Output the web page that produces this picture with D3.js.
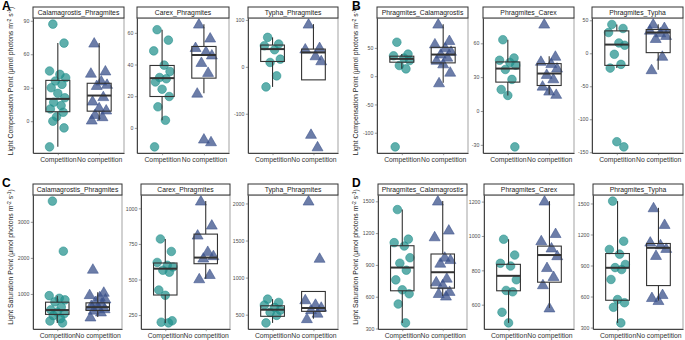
<!DOCTYPE html>
<html><head><meta charset="utf-8">
<script src="https://cdn.jsdelivr.net/npm/d3@7"></script>
<style>body{margin:0;background:#fff;} svg{display:block;font-family:"Liberation Sans",Arial,sans-serif;}</style>
</head><body><svg id="c" width="685" height="340"></svg>
<script>
const groups = ["Competition", "No competition"];

// Panel strip labels
const stripsA = ["Calamagrostis_Phragmites", "Carex_Phragmites", "Typha_Phragmites"];
const stripsB = ["Phragmites_Calamagrostis", "Phragmites_Carex", "Phragmites_Typha"];

// Tick labels
const A1_ticks = [0, 30, 60, 90];
const A2_ticks = [0, 20, 40, 60];
const A3_ticks = [-100, 0, 100];
const B1_ticks = [-100, -50, 0, 50];
const B2_ticks = [-30, 0, 30, 60];
const B3_ticks = [-150, -100, -50, 0, 50];
const C1_ticks = [1000, 2000, 3000];
const C2_ticks = [250, 500, 750, 1000];
const C3_ticks = [500, 1000, 1500, 2000];
const D1_ticks = [300, 600, 900, 1200, 1500];
const D2_ticks = [600, 800, 1000, 1200];
const D3_ticks = [300, 600, 900, 1200, 1500];

// Light compensation point (A)
const A1_comp = [87, 70, 45, 42, 39, 36, 33, 30, 25, 21, 17, 14, 11, 8, 4, 0, -6, -23];
const A1_compBox = [-23, 8.5, 20, 36.6, 70];
const A1_nocomp = [70, 45, 43, 36, 33, 32, 22, 18, 12, 10, 6, 4, 1];
const A1_nocompBox = [1, 9, 23, 34, 70];
const A2_comp = [62, 55.4, 48.6, 39.6, 35.6, 31.8, 31, 29, 24.4, 19.8, 13.3, 4.8, -12];
const A2_compBox = [4.8, 19.8, 31.4, 39.4, 62];
const A2_nocomp = [65.5, 56.7, 50.7, 48.2, 46, 41.3, 35, 21.9, -7.1, -8.8];
const A2_nocompBox = [21.9, 31.4, 46, 51.4, 65.5];
const A3_comp = [62.8, 48.6, 45, 36.4, 16.4, 9.3, -19.3, -42.8];
const A3_compBox = [-42.8, 11.4, 37.8, 46.4, 62.8];
const A3_nocomp = [91, 41, 38, 23.5, 12.8, -144, -170.6];
const A3_nocompBox = [-27.8, -27.8, 30.6, 37.8, 91];

// Light compensation point (B)
const B1_comp = [60, 39, 36, 32, 27.6, 18.8, 12.9, -125];
const B1_compBox = [12.9, 24.7, 30.6, 35.3, 39];
const B1_nocomp = [92, 63, 57, 50, 44, 39, 33.5, 28, 21.7, 7, -11.8];
const B1_nocompBox = [-11.8, 23.5, 38.2, 51, 92];
const B2_comp = [63.2, 47, 45, 43, 40.6, 36.8, 28, 19, 13.8, -31.8];
const B2_compBox = [13.8, 25.6, 37.6, 43.5, 63.2];
const B2_nocomp = [77, 48.5, 44, 42, 38, 32.4, 28.5, 22, 17.6, 14.7];
const B2_nocompBox = [14.7, 22.6, 33.2, 42, 48.5];
const B3_comp = [43.7, 37.6, 31.5, 15.7, 12.2, -1.5, -16.8, -22.4, -134, -141.8];
const B3_compBox = [-22.4, -18.3, 13.2, 34, 43.7];
const B3_nocomp = [44.2, 39, 35, 31, 27, 22.4, -4.6, -24.9];
const B3_nocompBox = [-24.9, 1, 31.5, 36.1, 44.2];

// Light saturation point (C)
const C1_comp = [3575, 2186, 953, 880, 836, 780, 635, 560, 498, 450, 400, 315, 250, 197];
const C1_compBox = [197, 433, 553, 772, 953];
const C1_nocomp = [1685, 1046, 980, 920, 860, 789, 740, 680, 640, 589, 550, 500, 360];
const C1_nocompBox = [360, 543, 635, 753, 1046];
const C2_comp = [785, 697, 620, 600, 588, 565, 551, 426, 389, 210, 200, 195];
const C2_compBox = [195, 391, 576, 616, 785];
const C2_nocomp = [1051, 882, 812, 697, 667, 650, 535, 505];
const C2_nocompBox = [505, 611, 654, 819, 1051];
const C3_comp = [710, 665, 630, 598, 560, 531, 490, 389];
const C3_compBox = [389, 478, 567, 620, 710];
const C3_nocomp = [2032, 1260, 701, 640, 600, 567, 520, 446];
const C3_nocompBox = [446, 545, 590, 813, 813];

// Light saturation point (D)
const D1_comp = [1422, 1143, 1110, 1078, 968, 916, 850, 759, 665, 628, 531, 353];
const D1_compBox = [353, 656, 875, 1081, 1422];
const D1_nocomp = [1502, 1228, 1165, 972, 950, 916, 775, 740, 712, 650, 630, 606];
const D1_nocompBox = [606, 681, 831, 1003, 1502];
const D2_comp = [981, 889, 841, 825, 745, 683, 675, 556, 494];
const D2_compBox = [494, 681, 768, 835, 981];
const D2_nocomp = [1203, 1014, 972, 930, 885, 816, 764, 716, 581];
const D2_nocompBox = [581, 731, 889, 941, 1203];
const D3_comp = [1523, 1135, 1055, 1010, 910, 880, 861, 765, 571, 540, 496, 345];
const D3_compBox = [345, 564, 878, 1016, 1523];
const D3_nocomp = [1458, 1297, 1126, 1100, 1065, 997, 619, 590, 561];
const D3_nocompBox = [561, 706, 1071, 1113, 1458];

// fixed horizontal jitter pattern (category units)
const jitter = [-0.12, 0.15, -0.2, 0.05, 0.19, -0.06, 0.1, -0.16, 0.0, 0.17, -0.1, 0.08, -0.18, 0.13, -0.03];

const colComp = "#21908C", colNo = "#3B528B";

const ROW1 = {stripTop: 7, top: 18, bottom: 153};
const ROW2 = {stripTop: 184, top: 195, bottom: 329};

const panels = [
  {strip: stripsA[0], ticks: A1_ticks, c: A1_comp, cb: A1_compBox, n: A1_nocomp, nb: A1_nocompBox, x: 33, w: 91, row: ROW1},
  {strip: stripsA[1], ticks: A2_ticks, c: A2_comp, cb: A2_compBox, n: A2_nocomp, nb: A2_nocompBox, x: 137, w: 92, row: ROW1},
  {strip: stripsA[2], ticks: A3_ticks, c: A3_comp, cb: A3_compBox, n: A3_nocomp, nb: A3_nocompBox, x: 248, w: 90, row: ROW1},
  {strip: stripsB[0], ticks: B1_ticks, c: B1_comp, cb: B1_compBox, n: B1_nocomp, nb: B1_nocompBox, x: 377, w: 91, row: ROW1},
  {strip: stripsB[1], ticks: B2_ticks, c: B2_comp, cb: B2_compBox, n: B2_nocomp, nb: B2_nocompBox, x: 483, w: 91, row: ROW1},
  {strip: stripsB[2], ticks: B3_ticks, c: B3_comp, cb: B3_compBox, n: B3_nocomp, nb: B3_nocompBox, x: 592, w: 91, row: ROW1},
  {strip: stripsA[0], ticks: C1_ticks, c: C1_comp, cb: C1_compBox, n: C1_nocomp, nb: C1_nocompBox, x: 33, w: 89, row: ROW2},
  {strip: stripsA[1], ticks: C2_ticks, c: C2_comp, cb: C2_compBox, n: C2_nocomp, nb: C2_nocompBox, x: 141, w: 89, row: ROW2},
  {strip: stripsA[2], ticks: C3_ticks, c: C3_comp, cb: C3_compBox, n: C3_nocomp, nb: C3_nocompBox, x: 248, w: 90, row: ROW2},
  {strip: stripsB[0], ticks: D1_ticks, c: D1_comp, cb: D1_compBox, n: D1_nocomp, nb: D1_nocompBox, x: 378, w: 89, row: ROW2},
  {strip: stripsB[1], ticks: D2_ticks, c: D2_comp, cb: D2_compBox, n: D2_nocomp, nb: D2_nocompBox, x: 484, w: 90, row: ROW2},
  {strip: stripsB[2], ticks: D3_ticks, c: D3_comp, cb: D3_compBox, n: D3_nocomp, nb: D3_nocompBox, x: 593, w: 90, row: ROW2}
];

const svg = d3.select("#c");
svg.append("rect").attr("width", 685).attr("height", 340).attr("fill", "#fff");

panels.forEach(p => {
  const g = svg.append("g");
  const all = p.c.concat(p.n, p.cb, p.nb);
  const ext = d3.extent(all);
  const pad = (ext[1] - ext[0]) * 0.05;
  const y = d3.scaleLinear().domain([ext[0] - pad, ext[1] + pad]).range([p.row.bottom, p.row.top]);
  const x = d3.scalePoint().domain(groups).range([p.x, p.x + p.w]).padding(0.6);
  const step = x.step();

  // panel border
  g.append("rect").attr("x", p.x).attr("y", p.row.top).attr("width", p.w).attr("height", p.row.bottom - p.row.top)
    .attr("fill", "none").attr("stroke", "#8c8c8c").attr("stroke-width", 0.8);

  // strip
  g.append("rect").attr("x", p.x).attr("y", p.row.stripTop).attr("width", p.w).attr("height", p.row.top - p.row.stripTop)
    .attr("fill", "#fff").attr("stroke", "#333").attr("stroke-width", 1);
  g.append("text").attr("x", p.x + p.w / 2).attr("y", (p.row.stripTop + p.row.top) / 2 + 0.3)
    .attr("text-anchor", "middle").attr("dominant-baseline", "middle")
    .attr("font-size", 6.8).attr("fill", "#1a1a1a").text(p.strip);

  // points
  const sets = [{vals: p.c, grp: groups[0], col: colComp, shape: "circle"}, {vals: p.n, grp: groups[1], col: colNo, shape: "tri"}];
  sets.forEach(s => {
    s.vals.forEach((v, i) => {
      const cx = x(s.grp) + jitter[i % jitter.length] * step;
      const cy = y(v);
      if (s.shape === "circle") {
        g.append("circle").attr("cx", cx).attr("cy", cy).attr("r", 4.3)
          .attr("fill", s.col).attr("fill-opacity", 0.72).attr("stroke", s.col).attr("stroke-opacity", 0.9).attr("stroke-width", 0.6);
      } else {
        g.append("path").attr("d", d3.symbol(d3.symbolTriangle, 52)()).attr("transform", `translate(${cx},${cy + 0.8})`)
          .attr("fill", s.col).attr("fill-opacity", 0.75).attr("stroke", s.col).attr("stroke-opacity", 0.9).attr("stroke-width", 0.6);
      }
    });
  });

  // boxes
  const bw = step * 0.58;
  [{b: p.cb, grp: groups[0]}, {b: p.nb, grp: groups[1]}].forEach(o => {
    const cx = x(o.grp), b = o.b;
    g.append("line").attr("x1", cx).attr("x2", cx).attr("y1", y(b[3])).attr("y2", y(b[4])).attr("stroke", "#333").attr("stroke-width", 1.1);
    g.append("line").attr("x1", cx).attr("x2", cx).attr("y1", y(b[1])).attr("y2", y(b[0])).attr("stroke", "#333").attr("stroke-width", 1.1);
    g.append("rect").attr("x", cx - bw / 2).attr("width", bw).attr("y", y(b[3])).attr("height", Math.max(0, y(b[1]) - y(b[3])))
      .attr("fill", "none").attr("stroke", "#333").attr("stroke-width", 1.1);
    g.append("line").attr("x1", cx - bw / 2).attr("x2", cx + bw / 2).attr("y1", y(b[2])).attr("y2", y(b[2])).attr("stroke", "#333").attr("stroke-width", 2);
  });

  // axes
  const ya = g.append("g").attr("transform", `translate(${p.x},0)`)
    .call(d3.axisLeft(y).tickValues(p.ticks).tickFormat(d => String(d)).tickSize(2.2).tickPadding(1.5).tickSizeOuter(0));
  ya.select(".domain").attr("stroke", "#333").attr("stroke-width", 0.9);
  ya.selectAll(".tick line").attr("stroke", "#555").attr("stroke-width", 0.6);
  ya.selectAll(".tick text").attr("font-size", 5.2).attr("fill", "#4d4d4d").attr("font-family", "Liberation Sans, Arial, sans-serif");

  const xa = g.append("g").attr("transform", `translate(0,${p.row.bottom})`)
    .call(d3.axisBottom(x).tickSize(2.2).tickPadding(2).tickSizeOuter(0));
  xa.select(".domain").attr("stroke", "#333").attr("stroke-width", 0.9);
  xa.selectAll(".tick line").attr("stroke", "#555").attr("stroke-width", 0.6);
  xa.selectAll(".tick text").attr("font-size", 6.8).attr("fill", "#333").attr("font-family", "Liberation Sans, Arial, sans-serif");
});

// y-axis titles
function ytitle(label, cx, cy) {
  const t = svg.append("text").attr("transform", `translate(${cx},${cy}) rotate(-90)`)
    .attr("text-anchor", "middle").attr("font-size", 6.9).attr("fill", "#1a1a1a");
  t.append("tspan").text(label + "  (μmol photons  m");
  t.append("tspan").attr("baseline-shift", "super").attr("font-size", 4.9).text("-2");
  t.append("tspan").text(" s");
  t.append("tspan").attr("baseline-shift", "super").attr("font-size", 4.9).text("-1");
  t.append("tspan").text(")");
}
ytitle("Light Compensation Point", 13, 81);
ytitle("Light Compensation Point", 358, 81);
ytitle("Light Saturation Point", 13, 257);
ytitle("Light Saturation Point", 358, 257);

// panel letters
[["A", 2, 10], ["B", 352, 10], ["C", 2, 187], ["D", 352, 187]].forEach(l => {
  svg.append("text").attr("x", l[1]).attr("y", l[2]).attr("font-size", 12).attr("font-weight", "bold").attr("fill", "#000").text(l[0]);
});
</script></body></html>
